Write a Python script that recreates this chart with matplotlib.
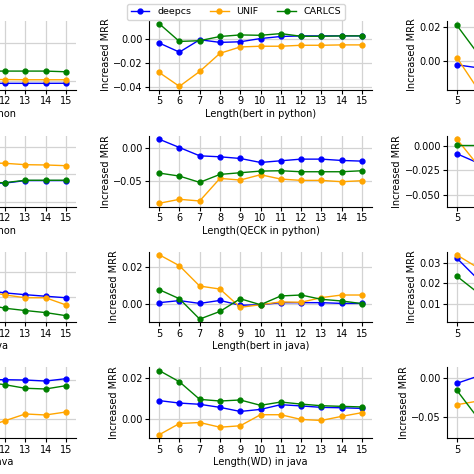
import numpy as np
import matplotlib
matplotlib.use("Agg")
import matplotlib.pyplot as plt

# ───────────────────────── DATA ─────────────────────────
nan = np.nan
LENGTHS = list(range(5, 16))
SERIES = ["deepcs", "UNIF", "CARLCS"]
COLORS = ["blue", "orange", "green"]

# left column: only lengths ~11..15 are inside the crop, the rest unseen -> nan
L1_DEEPCS = [nan] * 6 + [-0.0030, -0.0030, -0.0030, -0.0030, -0.0029]
L1_UNIF   = [nan] * 6 + [0.0020, 0.0020, 0.0017, 0.0017, 0.0017]
L1_CARLCS = [nan] * 6 + [0.0131, 0.0131, 0.0131, 0.0131, 0.0122]
L2_DEEPCS = [nan] * 6 + [-0.0655, -0.0655, -0.0610, -0.0610, -0.0610]
L2_UNIF   = [nan] * 6 + [-0.0290, -0.0299, -0.0324, -0.0329, -0.0342]
L2_CARLCS = [nan] * 6 + [-0.0647, -0.0647, -0.0604, -0.0604, -0.0604]
L3_DEEPCS = [nan] * 6 + [0.0128, 0.0117, 0.0110, 0.0104, 0.0098]
L3_UNIF   = [nan] * 6 + [0.0124, 0.0109, 0.0098, 0.0098, 0.0070]
L3_CARLCS = [nan] * 6 + [0.0073, 0.0057, 0.0048, 0.0040, 0.0028]
L4_DEEPCS = [nan] * 6 + [0.0000, 0.0000, -0.0004, -0.0017, 0.0013]
L4_UNIF   = [nan] * 6 + [-0.0607, -0.0522, -0.0436, -0.0449, -0.0411]
L4_CARLCS = [nan] * 6 + [-0.0030, -0.0064, -0.0109, -0.0118, -0.0076]

# middle column (fully visible)
M1_DEEPCS = [-0.0032, -0.0108, -0.0005, -0.0027, -0.0022, 0.0005, 0.0022, 0.0027, 0.0027, 0.0027, 0.0027]
M1_UNIF   = [-0.0277, -0.0393, -0.0269, -0.0118, -0.0065, -0.0059, -0.0059, -0.0051, -0.0051, -0.0048, -0.0048]
M1_CARLCS = [0.0129, -0.0019, -0.0013, 0.0022, 0.0035, 0.0032, 0.0046, 0.0024, 0.0024, 0.0027, 0.0027]
M2_DEEPCS = [0.0125, 0.0000, -0.0125, -0.0140, -0.0165, -0.0225, -0.0200, -0.0175, -0.0175, -0.0195, -0.0205]
M2_UNIF   = [-0.0840, -0.0780, -0.0805, -0.0465, -0.0490, -0.0410, -0.0475, -0.0495, -0.0495, -0.0515, -0.0500]
M2_CARLCS = [-0.0385, -0.0430, -0.0525, -0.0405, -0.0380, -0.0355, -0.0350, -0.0365, -0.0365, -0.0365, -0.0350]
M3_DEEPCS = [0.0009, 0.0020, 0.0005, 0.0021, -0.0005, -0.0002, 0.0009, 0.0009, 0.0009, 0.0005, 0.0005]
M3_UNIF   = [0.0266, 0.0207, 0.0098, 0.0082, -0.0016, -0.0002, 0.0013, 0.0011, 0.0036, 0.0050, 0.0050]
M3_CARLCS = [0.0079, 0.0030, -0.0079, -0.0038, 0.0030, -0.0002, 0.0045, 0.0050, 0.0027, 0.0018, 0.0004]
M4_DEEPCS = [0.0092, 0.0080, 0.0074, 0.0059, 0.0039, 0.0049, 0.0072, 0.0066, 0.0059, 0.0057, 0.0054]
M4_UNIF   = [-0.0075, -0.0020, -0.0015, -0.0038, -0.0031, 0.0023, 0.0023, 0.0000, -0.0005, 0.0015, 0.0033]
M4_CARLCS = [0.0239, 0.0184, 0.0098, 0.0090, 0.0095, 0.0069, 0.0085, 0.0075, 0.0067, 0.0064, 0.0061]

# right column: only length 5 (and the start of the segment to 6) is visible
R1_DEEPCS = [-0.0023, -0.0040] + [nan] * 9
R1_UNIF   = [0.0020, -0.0160] + [nan] * 9
R1_CARLCS = [0.0211, 0.0049] + [nan] * 9
R2_DEEPCS = [-0.0082, -0.0172] + [nan] * 9
R2_UNIF   = [0.0068, -0.0189] + [nan] * 9
R2_CARLCS = [0.0010, 0.0010] + [nan] * 9
R3_DEEPCS = [0.0325, 0.0225] + [nan] * 9
R3_UNIF   = [0.0341, 0.0280] + [nan] * 9
R3_CARLCS = [0.0236, 0.0157] + [nan] * 9
R4_DEEPCS = [-0.0069, 0.0020] + [nan] * 9
R4_UNIF   = [-0.0345, -0.0300] + [nan] * 9
R4_CARLCS = [-0.0159, -0.0504] + [nan] * 9

XLABELS = [
    ["Length(RS) in python", "Length(bert in python)", ""],
    ["Length(RS) in python", "Length(QECK in python)", ""],
    ["Length(RI) in java", "Length(bert in java)", ""],
    ["Length(bert) in java", "Length(WD) in java", ""],
]
PANELS = [
    [(L1_DEEPCS, L1_UNIF, L1_CARLCS), (M1_DEEPCS, M1_UNIF, M1_CARLCS), (R1_DEEPCS, R1_UNIF, R1_CARLCS)],
    [(L2_DEEPCS, L2_UNIF, L2_CARLCS), (M2_DEEPCS, M2_UNIF, M2_CARLCS), (R2_DEEPCS, R2_UNIF, R2_CARLCS)],
    [(L3_DEEPCS, L3_UNIF, L3_CARLCS), (M3_DEEPCS, M3_UNIF, M3_CARLCS), (R3_DEEPCS, R3_UNIF, R3_CARLCS)],
    [(L4_DEEPCS, L4_UNIF, L4_CARLCS), (M4_DEEPCS, M4_UNIF, M4_CARLCS), (R4_DEEPCS, R4_UNIF, R4_CARLCS)],
]
# side panels are cropped, so their range/ticks are fixed by hand (None = autoscale)
YLIMS = [
    [(-0.0111, 0.0796), None, (-0.0169, 0.0239)],
    [(-0.1076, 0.0192), None, (-0.062, 0.0099)],
    [(0.0002, 0.0279), None, (0.0008, 0.0358)],
    [(-0.0742, 0.0158), None, (-0.0775, 0.0138)],
]
YTICKS = [
    [[0.0, 0.05], None, [0.0, 0.02]],
    [[-0.10, -0.05, 0.0], None, [-0.05, -0.025, 0.0]],
    [[0.01, 0.02], None, [0.01, 0.02, 0.03]],
    [[-0.05, 0.0], None, [-0.05, 0.0]],
]

# ───────────────────────── LAYOUT (pixels of the 474 px crop) ──────────────────
W = H = 474.0
COL_LEFT = [-147.0, 149.0, 446.7]
AX_W = 223.0
ROW_TOP = [20.5, 136.0, 251.5, 367.3]
ROW_BOT = [89.5, 206.5, 322.3, 438.0]

plt.rcParams["font.size"] = 7
fig = plt.figure(figsize=(W / 100, H / 100), dpi=100)

handles = []
for r in range(4):
    for c in range(3):
        ax = fig.add_axes([COL_LEFT[c] / W, 1 - ROW_BOT[r] / H,
                           AX_W / W, (ROW_BOT[r] - ROW_TOP[r]) / H])
        for name, col, ys in zip(SERIES, COLORS, PANELS[r][c]):
            ln, = ax.plot(LENGTHS, ys, color=col, marker="o", markersize=3.5,
                          linewidth=1.0, label=name)
            if r == 0 and c == 1:
                handles.append(ln)
        ax.set_xticks(LENGTHS)
        ax.set_xlim(4.5, 15.5)
        if YLIMS[r][c] is not None:
            ax.set_ylim(*YLIMS[r][c])
            ax.set_yticks(YTICKS[r][c])
        ax.set_xlabel(XLABELS[r][c], labelpad=1.5)
        ax.set_ylabel("Increased MRR", labelpad=1.5)
        ax.tick_params(axis="x", length=3, pad=2)
        ax.tick_params(axis="y", length=3, pad=1.5)
        ax.grid(color="#d3d3d3", linewidth=0.9)
        ax.set_axisbelow(True)
        ax.spines["top"].set_visible(False)
        ax.spines["right"].set_visible(False)

fig.legend(handles, SERIES, loc="upper center", ncol=3,
           bbox_to_anchor=(236 / W, 1 - 4 / H), borderaxespad=0,
           fontsize=6.8, borderpad=0.35, handlelength=2.0)

fig.savefig("out.png", dpi=100)
